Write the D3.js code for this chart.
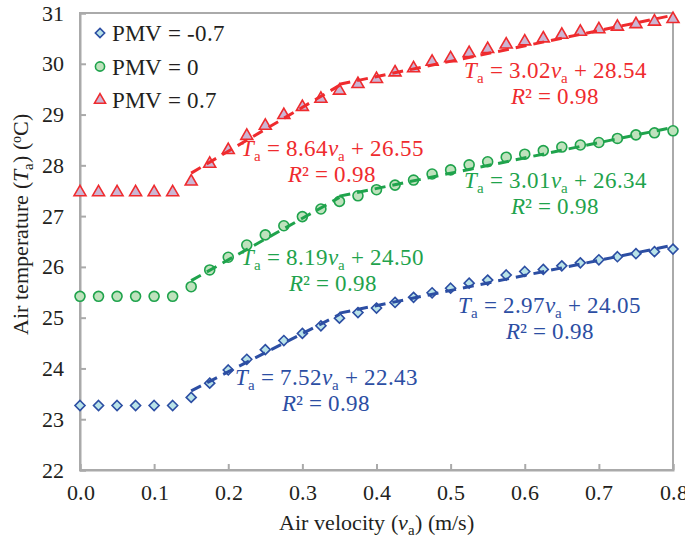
<!DOCTYPE html>
<html>
<head>
<meta charset="utf-8">
<script src="https://cdn.jsdelivr.net/npm/d3@7"></script>
<style>
  @font-face { font-family: 'ChartSerif'; src: local('Liberation Serif'), local('LiberationSerif-Regular'), local('LiberationSerif'); font-style: normal; }
  @font-face { font-family: 'ChartSerif'; src: local('Liberation Serif Italic'), local('LiberationSerif-Italic'); font-style: italic; }
</style>
</head>
<body style="margin:0">
<div id="container"></div>
<script>
// air velocity (m/s)
var velocity = [0, 0.025, 0.05, 0.075, 0.1, 0.125, 0.15, 0.175, 0.2, 0.225, 0.25, 0.275, 0.3,
  0.325, 0.35, 0.375, 0.4, 0.425, 0.45, 0.475, 0.5, 0.525, 0.55, 0.575, 0.6, 0.625, 0.65,
  0.675, 0.7, 0.725, 0.75, 0.775, 0.8];

var pmvNeg = [23.27, 23.27, 23.27, 23.27, 23.27, 23.27, 23.43, 23.71, 23.97, 24.18, 24.37, 24.55,
  24.69, 24.84, 24.99, 25.10, 25.19, 25.30, 25.40, 25.49, 25.58, 25.68, 25.74, 25.84, 25.91,
  25.95, 26.02, 26.08, 26.14, 26.20, 26.26, 26.30, 26.35];
var pmvZero = [25.42, 25.42, 25.42, 25.42, 25.42, 25.42, 25.61, 25.94, 26.19, 26.43, 26.63, 26.81,
  26.99, 27.14, 27.29, 27.40, 27.52, 27.61, 27.71, 27.83, 27.91, 28.01, 28.07, 28.16, 28.22,
  28.29, 28.36, 28.40, 28.45, 28.53, 28.60, 28.64, 28.68];
var pmvPos = [27.47, 27.47, 27.47, 27.47, 27.47, 27.47, 27.68, 28.03, 28.30, 28.58, 28.78, 28.99,
  29.15, 29.31, 29.47, 29.60, 29.70, 29.83, 29.91, 30.04, 30.11, 30.21, 30.29, 30.38, 30.44,
  30.50, 30.57, 30.63, 30.68, 30.73, 30.78, 30.83, 30.88];

var seriesNames = ['PMV = -0.7', 'PMV = 0', 'PMV = 0.7'];

// linear fits: [slope, intercept] for 0.15-0.35 and 0.35-0.8
var fitLow = [[7.52, 22.43], [8.19, 24.50], [8.64, 26.55]];
var fitHigh = [[2.97, 24.05], [3.01, 26.34], [3.02, 28.54]];
var fitRangeLow = [0.15, 0.35];
var fitRangeHigh = [0.35, 0.8];

var xTicks = [0, 0.1, 0.2, 0.3, 0.4, 0.5, 0.6, 0.7, 0.8];
var yTicks = [22, 23, 24, 25, 26, 27, 28, 29, 30, 31];

// equation label anchors (v, T) at the baseline of the first line
var labelLow = [[0.332, 23.67], [0.341, 26.04], [0.340, 28.18]];
var labelHigh = [[0.634, 25.09], [0.641, 27.55], [0.641, 29.72]];

var width = 685, height = 543;
var margin = { left: 80, right: 12, top: 13, bottom: 73 };
var font = "'ChartSerif', 'Liberation Serif', serif";

var colors = ['#2c4ea3', '#1fa34c', '#ef2b2e'];
var fills = ['#b9e3e8', '#bfe2bd', '#cbb6d4'];
var allData = [pmvNeg, pmvZero, pmvPos];

var svg = d3.select('#container').append('svg')
  .attr('width', width).attr('height', height)
  .style('font-family', font);

var x = d3.scaleLinear().domain([0, 0.8]).range([margin.left, width - margin.right]);
var y = d3.scaleLinear().domain([22, 31]).range([height - margin.bottom, margin.top]);

// frame
svg.append('rect')
  .attr('x', x(0)).attr('y', y(31))
  .attr('width', x(0.8) - x(0)).attr('height', y(22) - y(31))
  .attr('fill', 'none').attr('stroke', '#aaaaaa').attr('stroke-width', 2);

// axes, ticks pointing inside
var xAxis = svg.append('g')
  .attr('transform', 'translate(0,' + y(22) + ')')
  .call(d3.axisBottom(x).tickValues(xTicks).tickSize(-6).tickPadding(14).tickFormat(d3.format('.1f')));
var yAxis = svg.append('g')
  .attr('transform', 'translate(' + x(0) + ',0)')
  .call(d3.axisLeft(y).tickValues(yTicks).tickSize(-6).tickPadding(16).tickFormat(d3.format('d')));

[xAxis, yAxis].forEach(function(ax) {
  ax.attr('font-family', null).attr('font-size', 22);
  ax.select('.domain').attr('stroke', '#aaaaaa').attr('stroke-width', 2);
  ax.selectAll('.tick line').attr('stroke', '#aaaaaa').attr('stroke-width', 2);
  ax.selectAll('.tick text').attr('fill', '#231f20').style('font-family', font);
});

function markerPath(i, scale) {
  var sym = [d3.symbolDiamond2, d3.symbolCircle, d3.symbolTriangle][i];
  var s = [64, 78, 62][i] * scale;
  return d3.symbol().type(sym).size(s)();
}

var line = d3.line().x(function(d) { return x(d[0]); }).y(function(d) { return y(d[1]); });

allData.forEach(function(vals, i) {
  var g = svg.append('g').classed('series', true);
  g.selectAll('path.marker')
    .data(vals)
    .enter().append('path')
    .attr('class', 'marker')
    .attr('d', markerPath(i, 1))
    .attr('transform', function(d, j) {
      return 'translate(' + x(velocity[j]) + ',' + y(d) + ')';
    })
    .attr('fill', fills[i])
    .attr('stroke', colors[i])
    .attr('stroke-width', 1.6);

  // dashed fit lines over the markers
  [[fitLow[i], fitRangeLow], [fitHigh[i], fitRangeHigh]].forEach(function(f) {
    var k = f[0][0], b = f[0][1];
    var pts = f[1].map(function(v) { return [v, k * v + b]; });
    g.append('path')
      .attr('d', line(pts))
      .attr('fill', 'none')
      .attr('stroke', colors[i])
      .attr('stroke-width', 3)
      .attr('stroke-dasharray', '11,7');
  });
});

function addText(sel, size) {
  return sel.append('text').attr('font-size', size).style('font-family', font);
}

// equation labels
function equation(pos, coef, color) {
  var t = addText(svg, 23)
    .attr('x', x(pos[0])).attr('y', y(pos[1]))
    .attr('text-anchor', 'middle')
    .attr('fill', color);
  t.append('tspan').attr('font-style', 'italic').text('T');
  t.append('tspan').attr('dy', 5).attr('font-size', 15).text('a');
  t.append('tspan').attr('dy', -5).text(' = ' + coef[0].toFixed(2));
  t.append('tspan').attr('font-style', 'italic').text('v');
  t.append('tspan').attr('dy', 5).attr('font-size', 15).text('a');
  t.append('tspan').attr('dy', -5).text(' + ' + coef[1].toFixed(2));

  var r = addText(svg, 23)
    .attr('x', x(pos[0])).attr('y', y(pos[1]) + 26)
    .attr('text-anchor', 'middle')
    .attr('fill', color);
  r.append('tspan').attr('font-style', 'italic').text('R');
  r.append('tspan').text('² = 0.98');
}

for (var i = 0; i < 3; i++) {
  equation(labelLow[i], fitLow[i], colors[i]);
  equation(labelHigh[i], fitHigh[i], colors[i]);
}

// legend
var legend = svg.append('g').attr('transform', 'translate(100,33)');
seriesNames.forEach(function(name, i) {
  var row = legend.append('g').attr('transform', 'translate(0,' + (i * 33.5) + ')');
  row.append('path')
    .attr('d', markerPath(i, 0.85))
    .attr('fill', fills[i]).attr('stroke', colors[i]).attr('stroke-width', 1.6);
  addText(row, 23)
    .attr('x', 12).attr('y', 8)
    .attr('fill', '#231f20')
    .text(name);
});

// axis titles
var xt = addText(svg, 22)
  .attr('x', (x(0) + x(0.8)) / 2).attr('y', 530)
  .attr('text-anchor', 'middle').attr('fill', '#231f20');
xt.append('tspan').text('Air velocity (');
xt.append('tspan').attr('font-style', 'italic').text('v');
xt.append('tspan').attr('dy', 5).attr('font-size', 15).text('a');
xt.append('tspan').attr('dy', -5).text(') (m/s)');

var yt = addText(svg, 22)
  .attr('transform', 'translate(28,224) rotate(-90)')
  .attr('text-anchor', 'middle').attr('fill', '#231f20');
yt.append('tspan').text('Air temperature (');
yt.append('tspan').attr('font-style', 'italic').text('T');
yt.append('tspan').attr('dy', 5).attr('font-size', 15).text('a');
yt.append('tspan').attr('dy', -5).text(') (');
yt.append('tspan').attr('dy', -7).attr('font-size', 14).text('o');
yt.append('tspan').attr('dy', 7).text('C)');
</script>
</body>
</html>
